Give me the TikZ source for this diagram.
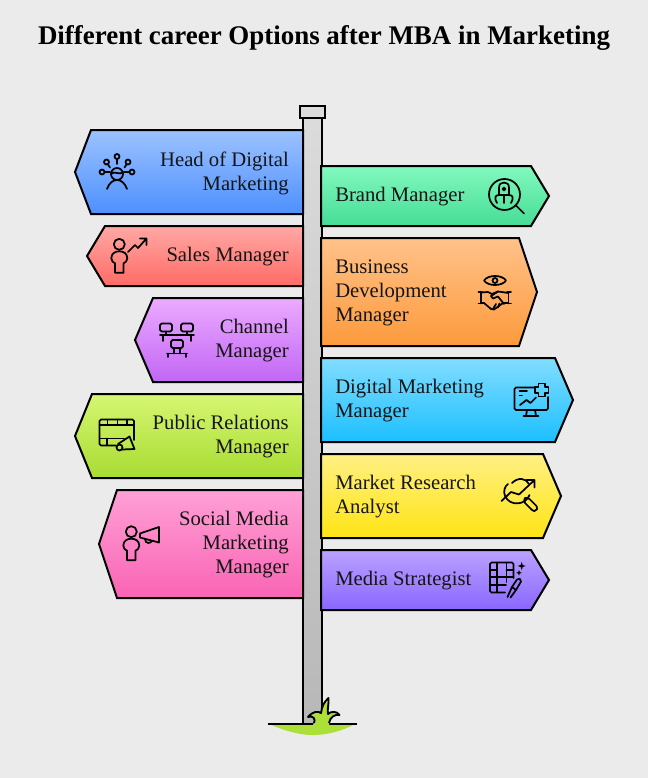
\documentclass[tikz,border=0pt]{standalone}
\usepackage{fontspec}
\setmainfont{Liberation Serif}
\definecolor{bgc}{HTML}{EBEBEB}
\definecolor{inkc}{HTML}{151515}
\definecolor{grassc}{HTML}{ACE038}
\definecolor{headT}{HTML}{9CC2FF}\definecolor{headB}{HTML}{4D90FE}
\definecolor{salesT}{HTML}{FFA8A4}\definecolor{salesB}{HTML}{FF6B66}
\definecolor{chanT}{HTML}{EBABFF}\definecolor{chanB}{HTML}{C266F5}
\definecolor{pubT}{HTML}{D6F672}\definecolor{pubB}{HTML}{A8DC32}
\definecolor{socT}{HTML}{FFA0D6}\definecolor{socB}{HTML}{F964B4}
\definecolor{brandT}{HTML}{82F9BE}\definecolor{brandB}{HTML}{46DC96}
\definecolor{busT}{HTML}{FFC28A}\definecolor{busB}{HTML}{FD9A3C}
\definecolor{digT}{HTML}{82DDFF}\definecolor{digB}{HTML}{1CBFFF}
\definecolor{mktT}{HTML}{FFF084}\definecolor{mktB}{HTML}{FFE414}
\definecolor{medT}{HTML}{BAA2FF}\definecolor{medB}{HTML}{8A66FF}
\tikzset{
  signshape/.style={draw=black,line width=1.5pt,line join=miter},
  lefttext/.style={anchor=east,align=right,font=\fontsize{15.5}{18}\selectfont,text=inkc,inner sep=0pt},
  righttext/.style={anchor=west,align=left,font=\fontsize{15.5}{18}\selectfont,text=inkc,inner sep=0pt},
  icon/.style={draw=black,line width=1.3pt,line cap=round,line join=round},
}
\newcommand{\personicon}[2]{%
  \draw[icon] (#1,#2) circle[radius=5.5];
  \begin{scope}[shift={(#1,#2)}]
  \draw[icon] (-4.3,28.5) -- (-4.3,19) .. controls (-6,18) and (-8,17) .. (-8,14) .. controls (-8,9) and (-4,7) .. (0,7) .. controls (4,7) and (8,9) .. (8,14) .. controls (8,17) and (6,18) .. (4.3,19) -- (4.3,28.5) -- cycle;
  \end{scope}}
\begin{document}
\begin{tikzpicture}[x=0.75pt,y=-0.75pt]
\useasboundingbox (0,0) rectangle (648,778);
\fill[bgc] (0,0) rectangle (648,778);
\node[font=\fontsize{20.2}{22}\bfseries\selectfont,text=black,inner sep=0pt] (title) at (324,38) {Different career Options after MBA in Marketing};
% ground
\fill[grassc] (269,724) .. controls (285,731) and (300,735) .. (312,735) .. controls (328,735) and (342,731) .. (355,724) -- cycle;
% post
\path[draw=black,line width=1.5pt,top color=black!14,bottom color=black!28] (303,117) rectangle (322,724);
\path[draw=black,line width=1.5pt,fill=black!14] (300,106) rectangle (325,118);
\draw[black,line width=1.5pt] (267.5,724) -- (356.5,724);
% grass
\path[fill=grassc] (313,725) .. controls (317,716) and (313,712) .. (308,717) .. controls (314,710) and (319,711) .. (321,713) .. controls (322,706) and (324,702) .. (328.5,698) .. controls (329,705) and (327,709) .. (328,714) .. controls (331,711) and (337,711) .. (339.5,715) .. controls (335,714) and (330,716) .. (329,725) -- cycle;
\draw[black,line width=1.4pt,line join=round] (314,723) .. controls (316,719) and (313,715) .. (308,717) .. controls (313,711) and (318,711) .. (321,713) .. controls (322,706) and (324,702) .. (328.5,698) .. controls (329,705) and (327,709) .. (328,714) .. controls (331,711) and (337,711) .. (339.5,715) .. controls (335,714) and (330,717) .. (329,723);
% left signs
\path[signshape,top color=headT,bottom color=headB] (303,130) -- (91,130) -- (75,172) -- (91,214) -- (303,214) -- cycle;
\path[signshape,top color=salesT,bottom color=salesB] (303,226) -- (105,226) -- (87,256) -- (105,286) -- (303,286) -- cycle;
\path[signshape,top color=chanT,bottom color=chanB] (303,298) -- (153,298) -- (135,340) -- (153,382) -- (303,382) -- cycle;
\path[signshape,top color=pubT,bottom color=pubB] (303,394) -- (92,394) -- (75,436) -- (92,478) -- (303,478) -- cycle;
\path[signshape,top color=socT,bottom color=socB] (303,490) -- (117,490) -- (99,544) -- (117,598) -- (303,598) -- cycle;
% right signs
\path[signshape,top color=brandT,bottom color=brandB] (321,166) -- (531,166) -- (549,196) -- (531,226) -- (321,226) -- cycle;
\path[signshape,top color=busT,bottom color=busB] (321,238) -- (519,238) -- (537,292) -- (519,346) -- (321,346) -- cycle;
\path[signshape,top color=digT,bottom color=digB] (321,358) -- (555,358) -- (573,400) -- (555,442) -- (321,442) -- cycle;
\path[signshape,top color=mktT,bottom color=mktB] (321,454) -- (543,454) -- (561,496) -- (543,538) -- (321,538) -- cycle;
\path[signshape,top color=medT,bottom color=medB] (321,550) -- (531,550) -- (549,580) -- (531,610) -- (321,610) -- cycle;
% labels
\node[lefttext] (thead) at (289,173) {Head of Digital\\Marketing};
\node[lefttext] (tsales) at (289,257) {Sales Manager};
\node[lefttext] (tchan) at (289,341) {Channel\\Manager};
\node[lefttext] (tpub) at (289,437) {Public Relations\\Manager};
\node[lefttext] (tsoc) at (289,545) {Social Media\\Marketing\\Manager};
\node[righttext] (tbrand) at (335,197) {Brand Manager};
\node[righttext] (tbus) at (335,293) {Business\\Development\\Manager};
\node[righttext] (tdig) at (335,401) {Digital Marketing\\Manager};
\node[righttext] (tmkt) at (335,497) {Market Research\\Analyst};
\node[righttext] (tmed) at (335,581) {Media Strategist};
% icon: head of digital
\draw[icon] (117,174) circle[radius=6];
\draw[icon] (111,174) .. controls (114,170) and (120,176) .. (123,172);
\draw[icon] (107,189) .. controls (109,183) and (113,180) .. (117,180) .. controls (121,180) and (125,183) .. (127,189);
\draw[icon] (117,156.5) circle[radius=2.5] (117,159) -- (117,164);
\draw[icon] (106.5,162) circle[radius=2.5] (108,164.5) -- (110,167.5);
\draw[icon] (128,162) circle[radius=2.5] (126.5,164.5) -- (124.5,167.5);
\draw[icon] (102,172) circle[radius=2.5] (104.5,172) -- (110,172);
\draw[icon] (132,172) circle[radius=2.5] (129.5,172) -- (124,172);
% icon: sales
\personicon{119.3}{244.3}
\draw[icon] (128,252) -- (135,245) -- (138,248) -- (146.5,238.5) (140,238.5) -- (146.5,238.5) -- (146.5,245);
% icon: channel
\draw[icon,rounded corners=1.2pt] (160,323.5) rectangle (172,331.5) (181,323.5) rectangle (193,331.5) (171,340) rectangle (183,348);
\draw[icon] (160,335) -- (194,335) (163,335) -- (163,341) (191,335) -- (191,341) (166,331.5) -- (166,335) (187,331.5) -- (187,335);
\draw[icon] (167,353.5) -- (187,353.5) (168,353.5) -- (168,357) (186,353.5) -- (186,357) (174,348) -- (174,353.5) (180,348) -- (180,353.5);
% icon: public relations
\draw[icon] (116,445.5) -- (101,445.5) .. controls (100,445.5) and (99.5,445) .. (99.5,444) -- (99.5,421) .. controls (99.5,420) and (100,419.5) .. (101,419.5) -- (132.5,419.5) .. controls (133.5,419.5) and (134,420) .. (134,421) -- (134,440);
\draw[icon] (99.5,425) -- (134,425) (107.5,419.5) -- (107.5,425) (117.5,419.5) -- (117.5,425) (127,419.5) -- (127,425);
\draw[icon] (99.5,438.5) -- (124,438.5) (107,438.5) -- (107,445.5);
\draw[icon] (118,444) -- (129.5,436.5) -- (134.5,449) -- (122,449.5);
\draw[icon] (119.5,447.5) circle[radius=3];
% icon: social
\personicon{131.3}{531.7}
\draw[icon] (140,533.5) -- (159,527) -- (159,542.5) -- (140,537.5) -- cycle;
\draw[icon] (145,539) .. controls (145,544) and (151,544) .. (152,540.5);
% icon: brand
\draw[icon] (504.5,194.5) circle[radius=15.5] (516.5,206) -- (524,213.5);
\draw[icon] (499,195) -- (499,188) .. controls (499,184) and (501,182.5) .. (504,182.5) .. controls (507,182.5) and (509,184) .. (509,188) -- (509,195) -- cycle;
\draw[icon] (504,189) circle[radius=1.5];
\draw[icon] (497,203) .. controls (494,198) and (495,195) .. (499,195) (511,203) .. controls (514,198) and (513,195) .. (509,195) (504,195) -- (504,203);
% icon: business
\draw[icon] (484,280.5) .. controls (488,274.5) and (502,274.5) .. (506,280.5) .. controls (502,286.5) and (488,286.5) .. (484,280.5) -- cycle;
\draw[icon] (495,280.5) circle[radius=2.5];
\draw[icon] (478.5,292) -- (482,292) (478.5,303.5) -- (480,303.5) (481,292) -- (481,303.5);
\draw[icon] (511,292) -- (507,292) (511,303.5) -- (509,303.5) (508.5,292) -- (508.5,303.5);
\draw[icon] (481,292.5) -- (488,292) -- (492,294) -- (498,291.5) -- (508.5,293) (481,303) -- (484,303) -- (491,309) -- (494,309.5) -- (503,303) -- (508.5,303);
\draw[icon] (498,291.5) -- (491,296) -- (493,298.5) -- (498,296.5) -- (504,304) (493,309) -- (496,304) (498,307.5) -- (499.5,303.5);
% icon: digital
\draw[icon] (535,387.5) -- (516,387.5) .. controls (515,387.5) and (514.5,388) .. (514.5,389) -- (514.5,408.5) .. controls (514.5,409.5) and (515,410) .. (516,410) -- (546.5,410) .. controls (547.5,410) and (548,409.5) .. (548,408.5) -- (548,397);
\draw[icon] (538.5,383.5) -- (545,383.5) -- (545,387) -- (548.5,387) -- (548.5,393) -- (545,393) -- (545,396.5) -- (538.5,396.5) -- (538.5,393) -- (535,393) -- (535,387) -- (538.5,387) -- cycle;
\draw[icon] (519.5,391) -- (527,391) (519.5,395.5) -- (522,395.5);
\draw[icon] (520,405) -- (526.5,400) -- (530.5,403) -- (536,397.5);
\draw[icon] (527,410) -- (526,416) (535,410) -- (536,416) (523.5,416) -- (538.5,416);
% icon: market
\draw[icon] (512,483) .. controls (518,477) and (526,478) .. (529,484) (529.5,495) .. controls (526,505) and (510,507) .. (505,496) .. controls (503,491) and (505,486) .. (508,484);
\draw[icon] (501.5,501) -- (511,492) -- (519,494.5) -- (534.5,480) (526.5,480) -- (534.5,480) -- (534.5,487.5);
\draw[icon] (525,498) .. controls (527,497) and (529,498.5) .. (530,499.5) -- (536.5,506) .. controls (538.5,508) and (537,510.5) .. (534.5,511) .. controls (533,511) and (532,510) .. (531,509) -- (525,503) .. controls (524,501) and (524,499) .. (525,498) -- cycle;
% icon: media
\draw[icon] (505,592.5) -- (491.5,592.5) .. controls (490.5,592.5) and (490,592) .. (490,591) -- (490,564) .. controls (490,563) and (490.5,562.5) .. (491.5,562.5) -- (512,562.5) .. controls (513,562.5) and (513.5,563) .. (513.5,564) -- (513.5,578);
\draw[icon] (497,562.5) -- (497,592.5) (506.5,562.5) -- (506.5,582);
\draw[icon] (490,570) -- (497,570) (490,577) -- (513.5,577) (490,585) -- (506,585) (506.5,570) -- (513.5,570);
\draw[icon] (507.5,597) -- (512,587) -- (517,579.5) .. controls (518.5,577.5) and (521.5,579) .. (521,581.5) -- (516,590) -- (510.5,597.5) (512,587) -- (516,590);
\fill[black] (521.7,562) -- (522.7,565) -- (525.7,566) -- (522.7,567) -- (521.7,570) -- (520.7,567) -- (517.7,566) -- (520.7,565) -- cycle;
\fill[black] (519,570) -- (519.8,572) -- (521.8,572.8) -- (519.8,573.6) -- (519,575.6) -- (518.2,573.6) -- (516.2,572.8) -- (518.2,572) -- cycle;
\end{tikzpicture}
\end{document}
